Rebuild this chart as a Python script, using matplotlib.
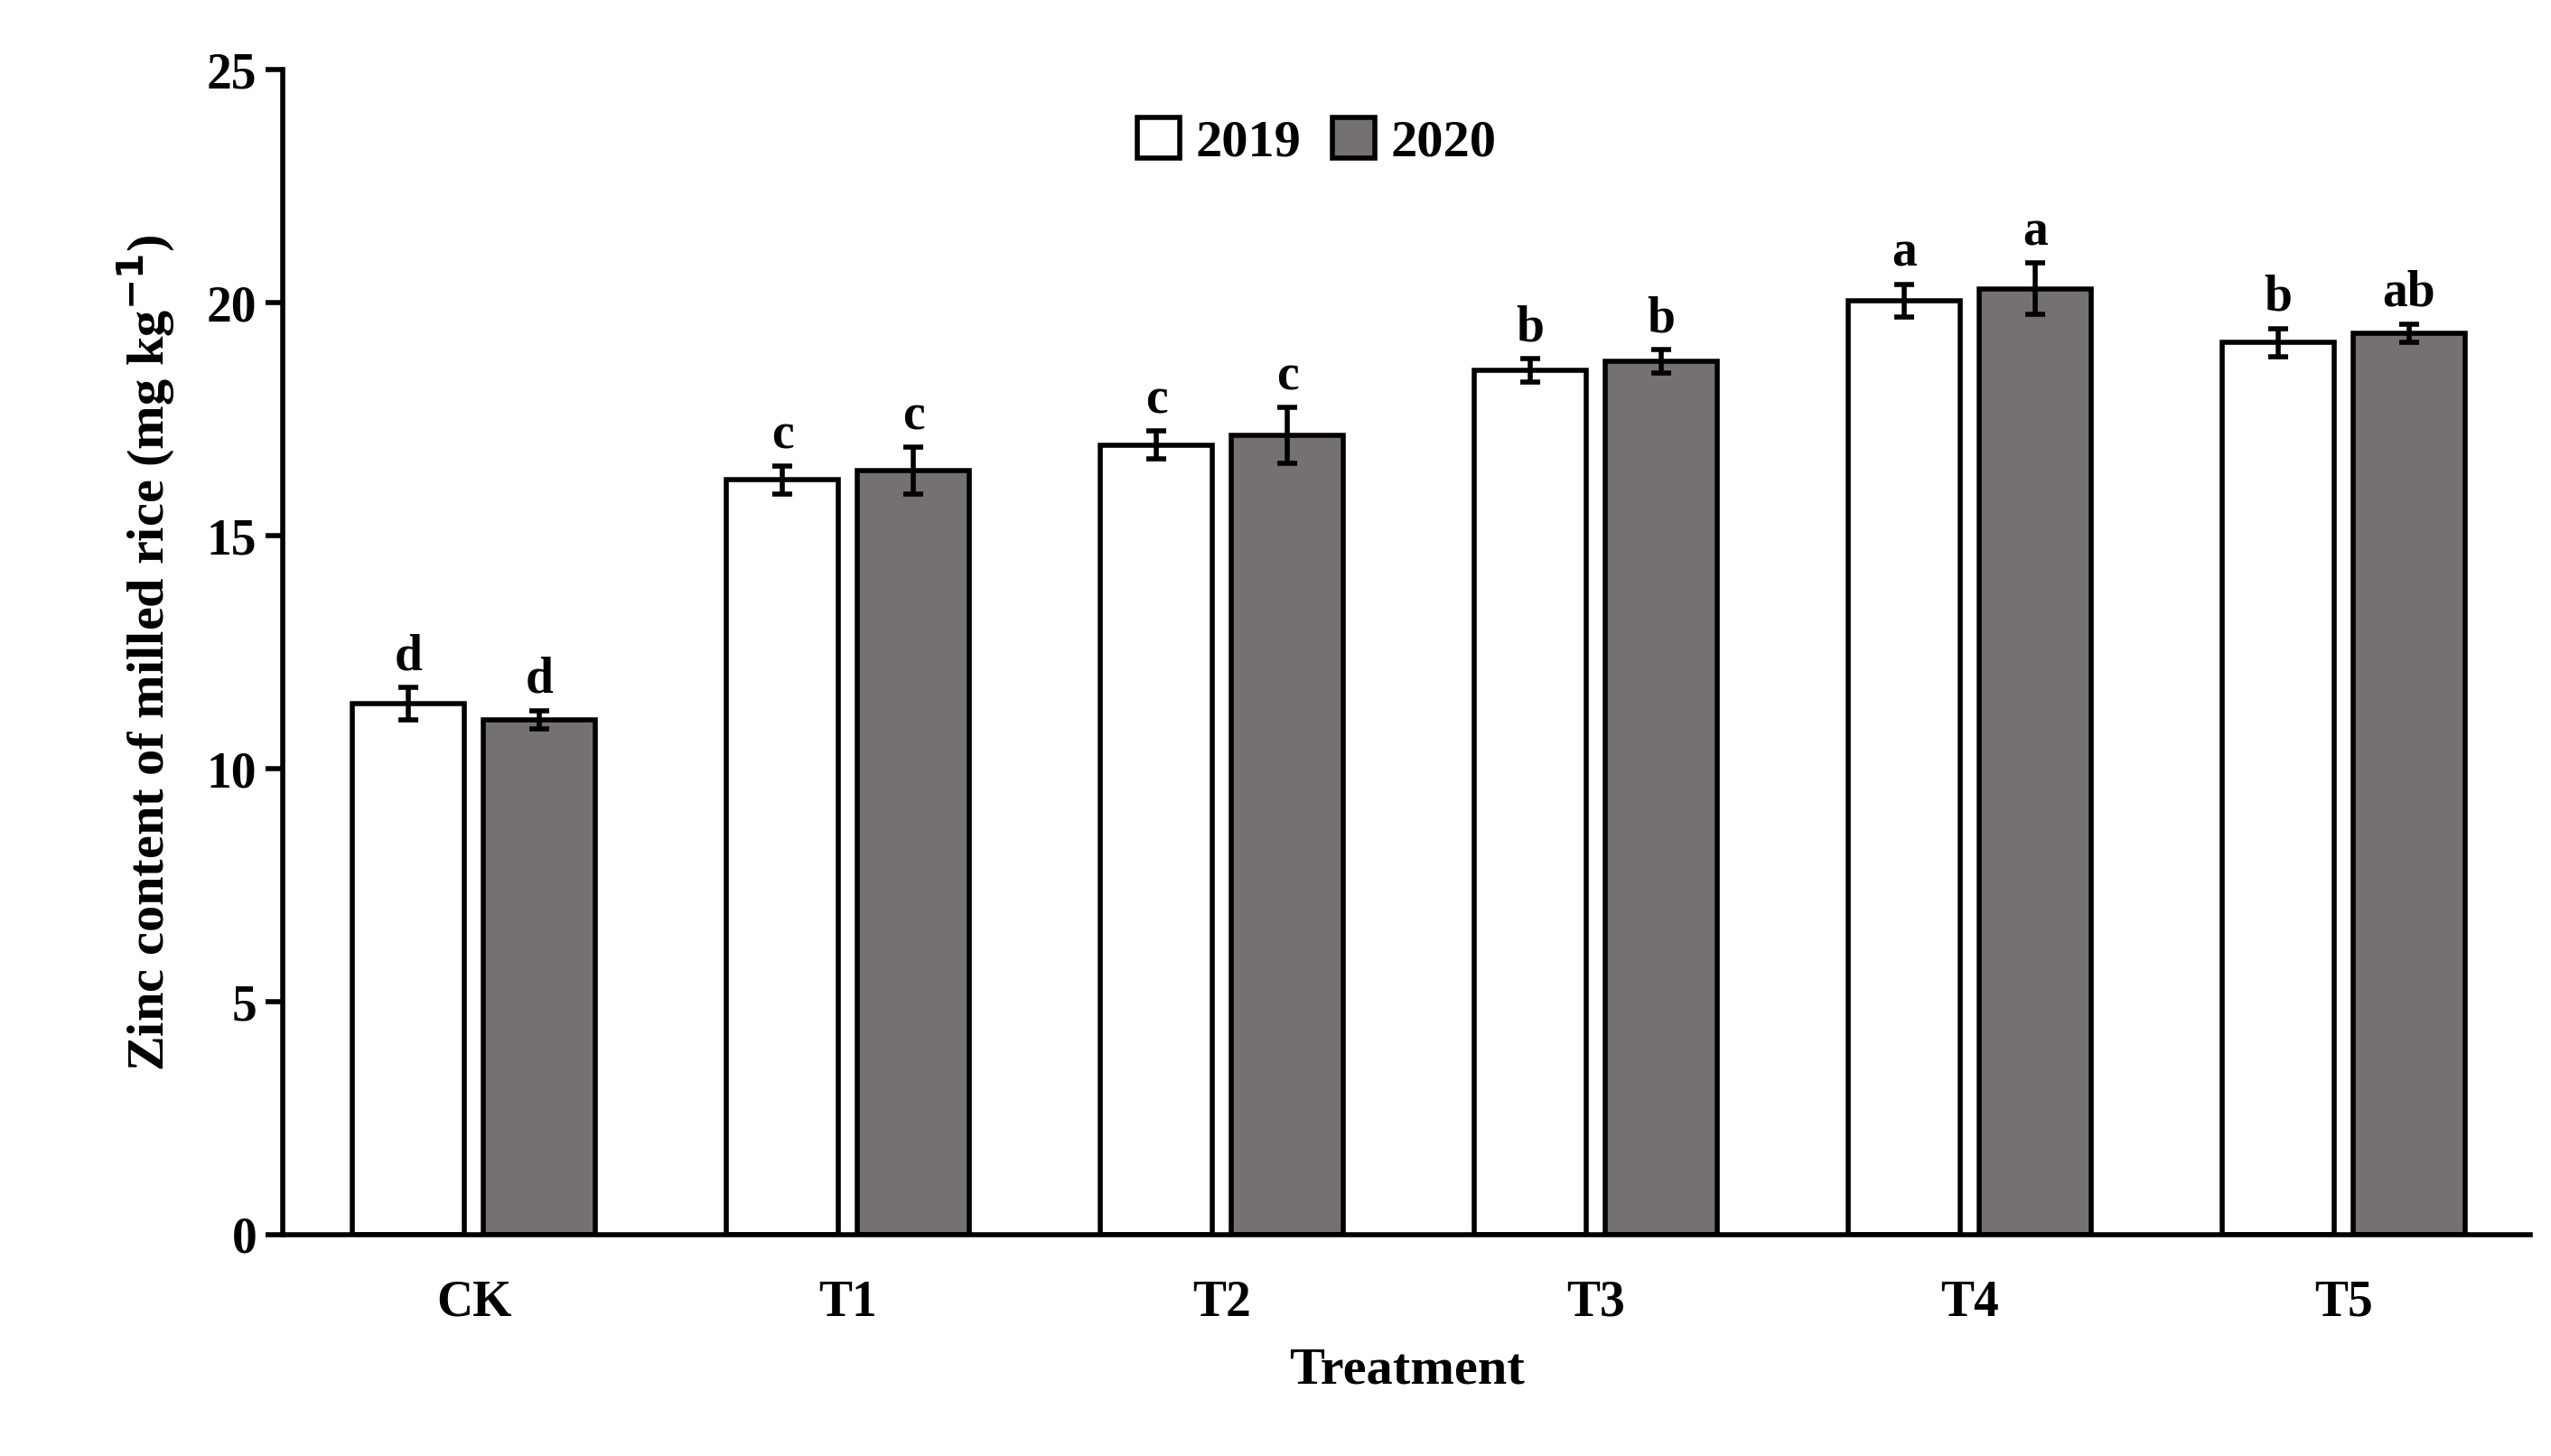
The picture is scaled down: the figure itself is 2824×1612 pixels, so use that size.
import matplotlib.pyplot as plt
import numpy as np

treatments = ['CK', 'T1', 'T2', 'T3', 'T4', 'T5']
zn_2019 = [11.4, 16.2, 16.95, 18.55, 20.05, 19.15]
zn_2020 = [11.05, 16.4, 17.15, 18.75, 20.3, 19.35]
err_2019 = [0.35, 0.3, 0.3, 0.25, 0.35, 0.3]
err_2020 = [0.2, 0.5, 0.6, 0.25, 0.55, 0.2]
let_2019 = ['d', 'c', 'c', 'b', 'a', 'b']
let_2020 = ['d', 'c', 'c', 'b', 'a', 'ab']

plt.rcParams['font.family'] = ['Liberation Serif', 'DejaVu Serif']
plt.rcParams['font.weight'] = 'bold'

fig = plt.figure(figsize=(14.12, 8.06), dpi=200)
ax = fig.add_axes([0.111, 0.152, 0.881, 0.8])

x = np.arange(len(treatments))
w = 0.3
ek = dict(elinewidth=2, capsize=4, capthick=2, ecolor='black')
ax.bar(x - 0.175, zn_2019, w, yerr=err_2019, color='white', edgecolor='black',
       linewidth=2, error_kw=ek, label='2019')
ax.bar(x + 0.175, zn_2020, w, yerr=err_2020, color='#767171', edgecolor='black',
       linewidth=2, error_kw=ek, label='2020')

for i in range(len(x)):
    ax.text(x[i] - 0.175, zn_2019[i] + err_2019[i] + 0.15, let_2019[i],
            ha='center', va='bottom', fontsize=20, fontweight='bold')
    ax.text(x[i] + 0.175, zn_2020[i] + err_2020[i] + 0.15, let_2020[i],
            ha='center', va='bottom', fontsize=20, fontweight='bold')

ax.set_xlim(-0.51, 5.5)
ax.set_ylim(0, 25)
ax.set_yticks([0, 5, 10, 15, 20, 25])
ax.set_xticks(x)
ax.set_xticklabels(treatments)
ax.tick_params(axis='x', length=0, pad=18, labelsize=20)
ax.tick_params(axis='y', direction='out', length=7, width=2, labelsize=20)
for lab in ax.get_xticklabels() + ax.get_yticklabels():
    lab.set_fontweight('bold')
ax.spines['top'].set_visible(False)
ax.spines['right'].set_visible(False)
ax.spines['left'].set_linewidth(2)
ax.spines['bottom'].set_linewidth(2)

ax.set_xlabel('Treatment', fontsize=21, fontweight='bold', labelpad=8)
ax.set_ylabel('Zinc content of milled rice (mg kg$^{\\mathbf{-1}}$)', fontsize=21,
              fontweight='bold', labelpad=12)

ax.legend(loc='upper center', bbox_to_anchor=(0.46, 1.0), ncol=2, frameon=False,
          fontsize=21, handlelength=0.8, handleheight=0.8, columnspacing=0.6,
          handletextpad=0.3)

fig.savefig('out.png', dpi=200)
